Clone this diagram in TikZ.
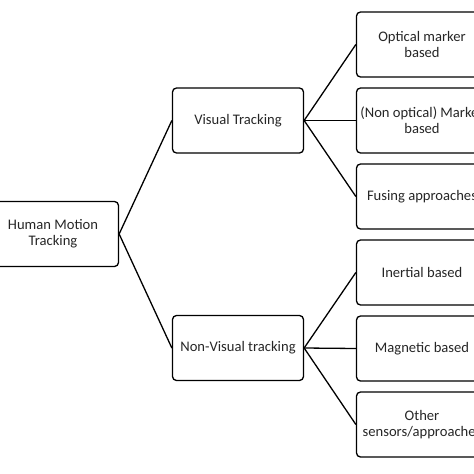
\documentclass[tikz,border=0pt]{standalone}
\usepackage{fontspec}
\setmainfont{Carlito}
\usepackage{tikz}
\usetikzlibrary{positioning}

\begin{document}
\begin{tikzpicture}[x=1pt, y=-1pt,
        every node/.style = {draw, line width=1.3pt, rounded corners=4pt, align=center,
          minimum width=131pt, minimum height=65pt, font=\fontsize{14.6}{15.7}\selectfont,
          text=black!85, node distance={76pt}},
        link/.style = {line width=1.3pt}
        ]
        \useasboundingbox (0,0) rectangle (474,474);
        \clip (0,0) rectangle (474,474);
        \node (hmt) at (53,234) {Human Motion\\Tracking};
        \node (vis) at (238,120.5) {Visual Tracking};
        \node (nvis) at (238,348) {Non-Visual tracking};
        \node (om) at (422,44.5) {Optical marker\\based};
        \node (nom) [below of=om] {(Non optical) Marker\\based};
        \node (fus) [below of=nom] {Fusing approaches};
        \node (ine) [below of=fus] {Inertial based};
        \node (mag) [below of=ine] {Magnetic based};
        \node (oth) [below of=mag] {Other\\sensors/approaches};
        \draw[link] (hmt.east) -- (vis.west);
        \draw[link] (hmt.east) -- (nvis.west);
        \draw[link] (vis.east) -- (om.west);
        \draw[link] (vis.east) -- (nom.west);
        \draw[link] (vis.east) -- (fus.west);
        \draw[link] (nvis.east) -- (ine.west);
        \draw[link] (nvis.east) -- (mag.west);
        \draw[link] (nvis.east) -- (oth.west);
\end{tikzpicture}
\end{document}
